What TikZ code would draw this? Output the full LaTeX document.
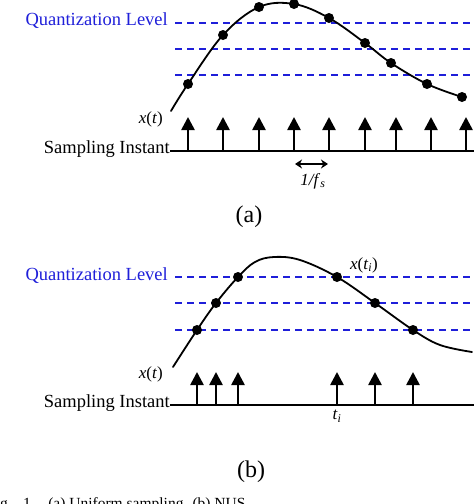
\documentclass[tikz,border=0pt]{standalone}
\usepackage{fontspec}
\setmainfont{Liberation Serif}
\usetikzlibrary{arrows.meta}
\usetikzlibrary{positioning}
\definecolor{qblue}{rgb}{0.12,0.12,0.85}

\newcommand{\sig}[1]{\textit{x}(\textit{#1})}

\begin{document}
\begin{tikzpicture}[
            x = 1pt, y = -1pt, % one unit per pixel, y pointing down
            > = {Triangle[width=13pt,length=13pt]}, % impulse head
            font = \fontsize{18.5}{22}\selectfont,
            inner sep = 0pt
        ]

        \tikzstyle{level}=[draw = qblue, line width = 1.4pt, dash pattern = on 7pt off 5pt]
        \tikzstyle{signal}=[line width = 1.8pt, line cap = round]
        \tikzstyle{impulse}=[line width = 2.6pt, ->]
        \tikzstyle{axis}=[line width = 2pt]
        \tikzstyle{sample}=[circle, fill = black, minimum size = 10pt]
        \tikzstyle{period}=[line width = 1.8pt, {Stealth[length=7pt,width=9pt]}-{Stealth[length=7pt,width=9pt]}]
        \tikzstyle{math}=[font = \fontsize{17}{20}\selectfont]
        \tikzstyle{panel}=[font = \fontsize{24}{28}\selectfont]

        \useasboundingbox (0,0) rectangle (474,504);

	% (a) uniform sampling
        \node[text = qblue, anchor = mid east] (QA) at (168,23) {Quantization Level};
        \node[anchor = mid east] (SA) at (170,151) {Sampling Instant};
        \node[math, anchor = mid east] (XA) at (163,121) {\sig{t}};

        \foreach \y [count=\i] in {23,49,75} {
            \coordinate (la\i) at (175,\y);
            \coordinate (ra\i) at (474,\y);
            \draw[level] (la\i) -- (ra\i);
        }

        \coordinate (EA) at (474,151);
        \draw[axis] (SA.mid east) -- (EA);

        \foreach \x [count=\i] in {188,223,259,294,329,365,396,431,466} {
            \coordinate (ba\i) at (\x,151);
            \coordinate (ta\i) at (\x,117);
            \draw[impulse] (ba\i) -- (ta\i);
        }

        \draw[signal] plot[smooth, tension = 0.6] coordinates {(171,111) (188,84) (223,35)
            (259,7) (294,4) (329,18) (365,43) (391,63) (427,84) (462,97)};

        \foreach \p [count=\i] in {(188,84),(223,35),(259,7),(294,4),(329,18),(365,43),(391,63),(427,84),(462,97)}
            \node[sample] (da\i) at \p {};

        \coordinate (PL) at (295,164);
        \coordinate (PR) at (328,164);
        \draw[period] (PL) -- (PR);
        \node[math] (FS) at (313,181) {\textit{1/f}\textsubscript{\textit{s}}};

        \node[panel] (CA) at (249,217) {(a)};

	% (b) non-uniform sampling
        \node[text = qblue, anchor = mid east] (QB) at (168,278) {Quantization Level};
        \node[anchor = mid east] (SB) at (170,405) {Sampling Instant};
        \node[math, anchor = mid east] (XB) at (163,376) {\sig{t}};

        \foreach \y [count=\i] in {277,303,330} {
            \coordinate (lb\i) at (175,\y);
            \coordinate (rb\i) at (474,\y);
            \draw[level] (lb\i) -- (rb\i);
        }

        \coordinate (EB) at (474,405);
        \draw[axis] (SB.mid east) -- (EB);

        \foreach \x [count=\i] in {197,216,238,337,375,413} {
            \coordinate (bb\i) at (\x,405);
            \coordinate (tb\i) at (\x,372);
            \draw[impulse] (bb\i) -- (tb\i);
        }

        \draw[signal] plot[smooth, tension = 0.6] coordinates {(173,367) (197,330) (216,303)
            (238,277) (255,262) (274,257) (300,260) (337,277) (375,303) (413,330) (440,345) (472,352)};

        \foreach \p [count=\i] in {(197,330),(216,303),(238,277),(337,277),(375,303),(413,330)}
            \node[sample] (db\i) at \p {};

        \node[math] (XI) at (364,265) {\textit{x}(\textit{t}\textsubscript{\textit{i}})};
        \node[math] (TI) at (337,416) {\textit{t}\textsubscript{\textit{i}}};

        \node[panel] (CB) at (251,472) {(b)};

	% caption, cut by the page edge
        \node[anchor = base west, font = \fontsize{15.5}{18}\selectfont] (CAP) at (-13,508)
            {Fig.\hspace{0.74em}1.\hspace{0.87em}(a) Uniform sampling. (b) NUS};

\end{tikzpicture}
\end{document}
